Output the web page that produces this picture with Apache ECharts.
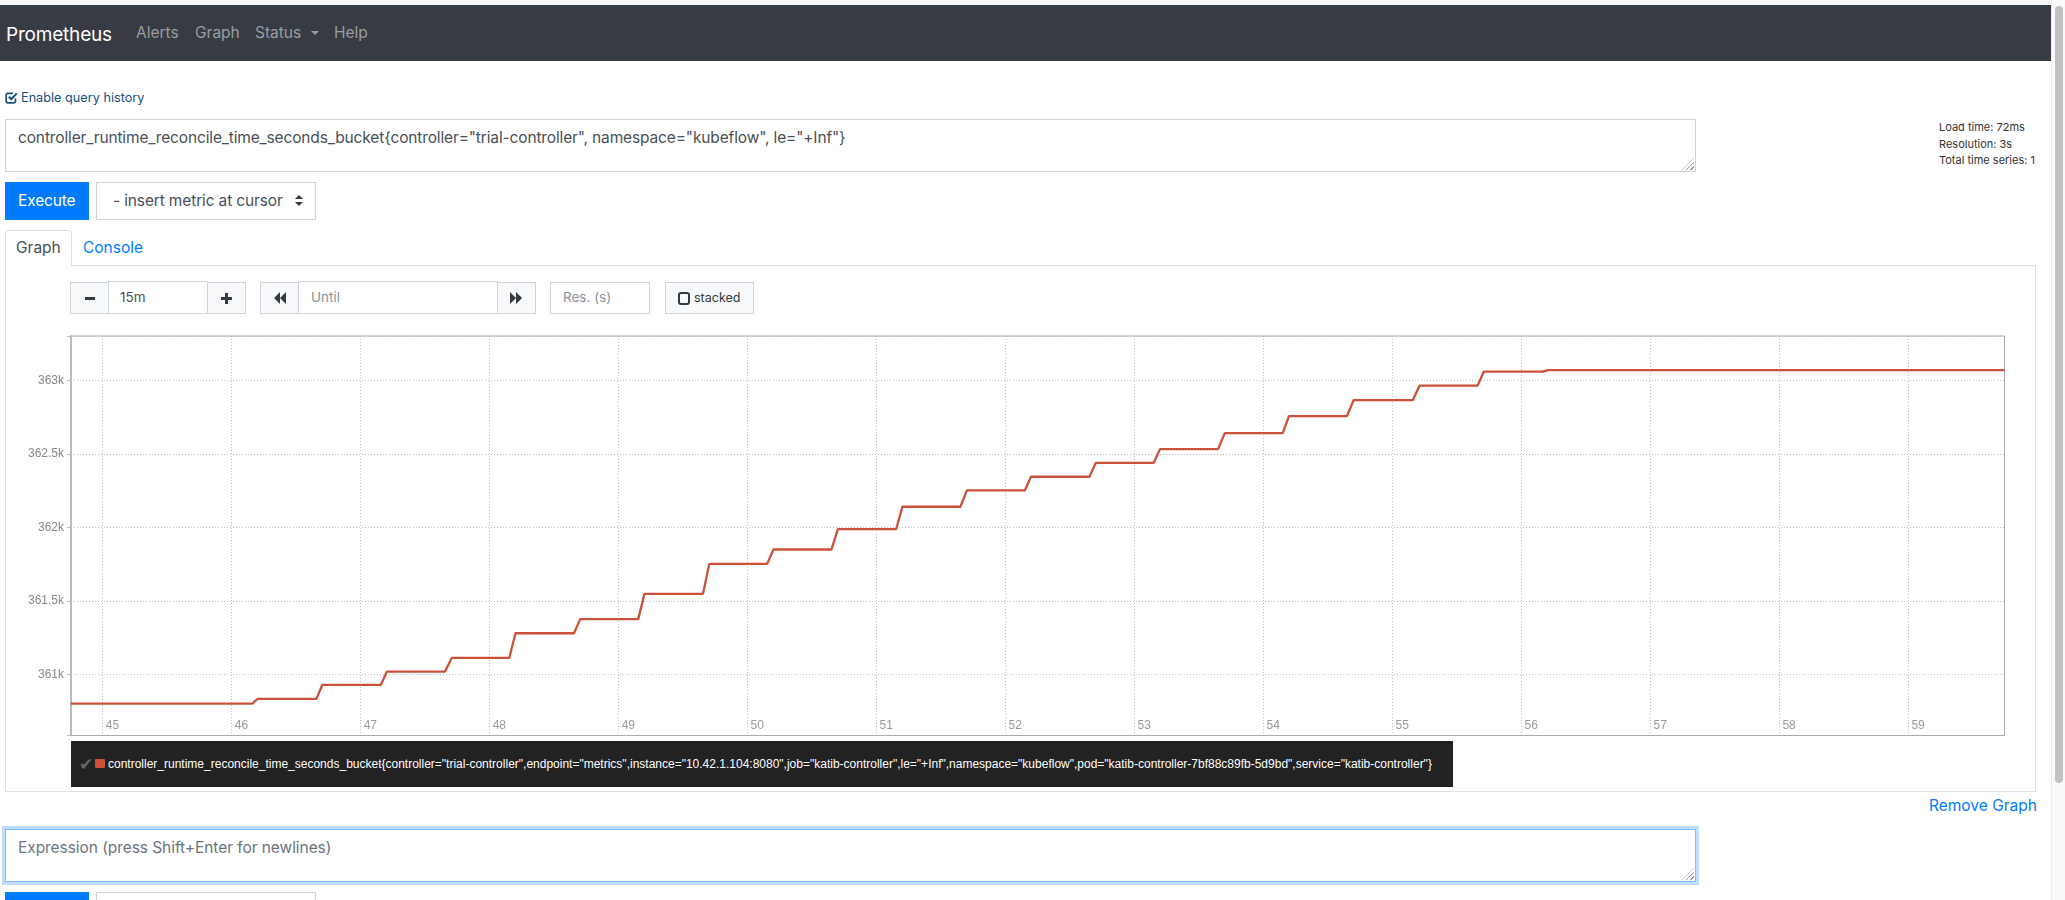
<!DOCTYPE html>
<html lang="en">
<head>
<meta charset="UTF-8">
<title>Prometheus Time Series Collection and Processing Server</title>
<style>
    * { box-sizing: border-box; margin: 0; padding: 0; }
    html, body { width: 2065px; height: 900px; overflow: hidden; background: #fff; }
    body { position: relative; font-family: Inter, Roboto, sans-serif; color: #495057; }
    .a { position: absolute; white-space: nowrap; }
    .t { position: absolute; white-space: nowrap; transform: translateY(-50%); line-height: 1; }
    .tight { letter-spacing: -0.14px; }
    .box { position: absolute; border: 1px solid #ced4da; background: #fff; }
    .btn { position: absolute; border: 1px solid #ced4da; background: #f8f9fa; }
    .grip { position: absolute; width: 12px; height: 12px;
        background: repeating-linear-gradient(135deg, transparent 0 2px, #999 2px 3px);
        clip-path: polygon(100% 0, 100% 100%, 0 100%); }
    #chart { position: absolute; left: 0; top: 320px; width: 2040px; height: 425px; }
    svg { position: absolute; }
</style>
</head>
<body>
    <div class="a" style="left:0;top:0;width:2051px;height:5px;background:#f6f6f6"></div>
    <div class="a" style="left:0;top:5px;width:2051px;height:56px;background:#373b43"></div>
    <div class="t" style="left:6px;top:34px;font-size:19px;color:#fff;font-weight:400;letter-spacing:-0.2px">Prometheus</div>
    <div class="t" style="left:136px;top:33px;font-size:15.5px;color:#9b9da1">Alerts</div>
    <div class="t" style="left:195px;top:33px;font-size:15.5px;color:#9b9da1">Graph</div>
    <div class="t" style="left:255px;top:33px;font-size:15.5px;color:#9b9da1">Status</div>
    <div class="a" style="left:311px;top:31px;border:4px solid transparent;border-top-color:#9b9da1;border-bottom:0"></div>
    <div class="t" style="left:334px;top:33px;font-size:15.5px;color:#9b9da1">Help</div>

    <div class="a" style="left:2051px;top:0;width:14px;height:900px;background:#fafafa;border-left:1px solid #ececec"></div>
    <div class="a" style="left:2055px;top:6px;width:8px;height:777px;background:#c1c1c1;border-radius:4px"></div>

    <svg style="left:5px;top:91px" width="13" height="13" viewBox="0 0 13 13">
        <path d="M10.5 7.5V10.2A1.6 1.6 0 0 1 8.9 11.8H2.8A1.6 1.6 0 0 1 1.2 10.2V4A1.6 1.6 0 0 1 2.8 2.4H8" fill="none" stroke="#17507f" stroke-width="1.7"/>
        <path d="M3.8 5.8L6.3 8.3L11.8 2.4" fill="none" stroke="#17507f" stroke-width="2"/>
    </svg>
    <div class="t" style="left:21px;top:97.5px;font-size:12.7px;color:#17507f">Enable query history</div>

    <div class="box" style="left:5px;top:119px;width:1691px;height:53px"></div>
    <div class="t tight" style="left:18px;top:138px;font-size:15.5px">controller_runtime_reconcile_time_seconds_bucket{controller="trial-controller", namespace="kubeflow", le="+Inf"}</div>
    <div class="grip" style="left:1682px;top:158px"></div>

    <div class="t" style="left:1939px;top:127px;font-size:11px;color:#333">Load time: 72ms</div>
    <div class="t" style="left:1939px;top:144px;font-size:11px;color:#333">Resolution: 3s</div>
    <div class="t" style="left:1939px;top:160px;font-size:11px;color:#333">Total time series: 1</div>

    <div class="a" style="left:5px;top:182px;width:84px;height:38px;background:#007bff"></div>
    <div class="t tight" style="left:18px;top:201px;font-size:15.5px;color:#fff">Execute</div>
    <div class="box" style="left:96px;top:182px;width:220px;height:38px"></div>
    <div class="t tight" style="left:113px;top:201px;font-size:15.5px">- insert metric at cursor</div>
    <div class="a" style="left:295px;top:195px;border:4px solid transparent;border-bottom-color:#343a40;border-top:0"></div>
    <div class="a" style="left:295px;top:202px;border:4px solid transparent;border-top-color:#343a40;border-bottom:0"></div>

    <!-- tabs and graph panel -->
    <div class="a" style="left:5px;top:265px;width:2031px;height:527px;border:1px solid #dee2e6"></div>
    <div class="a" style="left:5px;top:230px;width:67px;height:36px;background:#fff;border:1px solid #dee2e6;border-bottom:0;border-radius:4px 4px 0 0"></div>
    <div class="t" style="left:16px;top:248px;font-size:15.5px">Graph</div>
    <div class="t" style="left:83px;top:248px;font-size:15.5px;color:#007bff">Console</div>

    <div class="btn" style="left:70px;top:282px;width:39px;height:32px"></div>
    <div class="a" style="left:85px;top:297px;width:10px;height:3px;background:#343a40"></div>
    <div class="box" style="left:108px;top:281px;width:100px;height:33px"></div>
    <div class="t" style="left:120px;top:298px;font-size:13.5px">15m</div>
    <div class="btn" style="left:207px;top:282px;width:39px;height:32px"></div>
    <div class="a" style="left:221px;top:297px;width:11px;height:3px;background:#343a40"></div>
    <div class="a" style="left:225px;top:293px;width:3px;height:11px;background:#343a40"></div>

    <div class="btn" style="left:260px;top:282px;width:39px;height:32px"></div>
    <svg style="left:274px;top:292px" width="12" height="12" viewBox="0 0 12 12"><path d="M6 0V12L0 6ZM12 0V12L6 6Z" fill="#343a40"/></svg>
    <div class="box" style="left:298px;top:281px;width:200px;height:33px"></div>
    <div class="t" style="left:311px;top:298px;font-size:13.5px;color:#8a9299">Until</div>
    <div class="btn" style="left:497px;top:282px;width:39px;height:32px"></div>
    <svg style="left:510px;top:292px" width="12" height="12" viewBox="0 0 12 12"><path d="M0 0V12L6 6ZM6 0V12L12 6Z" fill="#343a40"/></svg>
    <div class="box" style="left:550px;top:282px;width:100px;height:32px"></div>
    <div class="t" style="left:563px;top:298px;font-size:13.5px;color:#8a9299">Res. (s)</div>
    <div class="btn" style="left:665px;top:282px;width:89px;height:32px"></div>
    <div class="a" style="left:678px;top:292px;width:12px;height:13px;border:2px solid #343a40;border-radius:3px"></div>
    <div class="t" style="left:694px;top:298px;font-size:12.5px;color:#343a40">stacked</div>

    <div id="chart"></div>

    <div class="a" style="left:71px;top:741px;width:1382px;height:46px;background:#222"></div>
    <div class="t" style="left:79px;top:764px;font-size:17px;color:#666">✔</div>
    <div class="a" style="left:95px;top:759px;width:10px;height:9px;background:#cb513a;border-radius:1px"></div>
    <div class="t" id="legend" style="left:108px;top:764px;font:12px 'Liberation Sans',sans-serif;color:#fff"></div>

    <div class="t" style="left:1929px;top:806px;font-size:15.5px;color:#007bff">Remove Graph</div>

    <div class="a" style="left:5px;top:829px;width:1691px;height:53px;background:#fff;border:1px solid #80bdff;box-shadow:0 0 0 3px rgba(0,123,255,.25)"></div>
    <div class="t" style="left:18px;top:848px;font-size:15.5px;color:#6c757d;letter-spacing:-0.06px">Expression (press Shift+Enter for newlines)</div>
    <div class="grip" style="left:1682px;top:868px"></div>
    <div class="a" style="left:5px;top:892px;width:84px;height:8px;background:#007bff"></div>
    <div class="box" style="left:96px;top:892px;width:220px;height:20px"></div>

    <script src="https://cdn.jsdelivr.net/npm/echarts@6/dist/echarts.min.js"></script>
    <script>
    // values: minute of the hour, counter value
    const minutes = [44.754, 46.159, 46.2, 46.657, 46.702, 47.156, 47.204, 47.654, 47.706, 48.152, 48.2, 48.654,
        48.702, 49.152, 49.2, 49.654, 49.703, 50.152, 50.2, 50.65, 50.7, 51.152, 51.2, 51.65, 51.7, 52.149,
        52.197, 52.65, 52.7, 53.149, 53.197, 53.647, 53.7, 54.149, 54.197, 54.647, 54.699, 55.158, 55.209,
        55.659, 55.708, 56.165, 56.207, 59.745];
    const counts = [360800, 360800, 360832, 360832, 360927, 360927, 361018, 361018, 361111, 361111, 361279, 361279,
        361375, 361375, 361547, 361547, 361751, 361751, 361849, 361849, 361987, 361987, 362140, 362140, 362251, 362251,
        362344, 362344, 362439, 362439, 362532, 362532, 362641, 362641, 362757, 362757, 362866, 362866, 362964,
        362964, 363059, 363059, 363070, 363070];
    const minuteTicks = [45, 46, 47, 48, 49, 50, 51, 52, 53, 54, 55, 56, 57, 58, 59];
    const countTicks = [361000, 361500, 362000, 362500, 363000];
    const xRange = [44.754, 59.745];
    const yRange = [360583, 363302];
    const seriesName = 'controller_runtime_reconcile_time_seconds_bucket{controller="trial-controller",endpoint="metrics",instance="10.42.1.104:8080",job="katib-controller",le="+Inf",namespace="kubeflow",pod="katib-controller-7bf88c89fb-5d9bd",service="katib-controller"}';

    document.getElementById('legend').textContent = seriesName;

    const gridLine = { show: true, lineStyle: { color: '#bdbdbd', type: [1, 2], width: 1 } };
    const chart = echarts.init(document.getElementById('chart'));
    chart.setOption({
        animation: false,
        textStyle: { fontFamily: "'Liberation Sans', sans-serif" },
        grid: { left: 71, right: 35.5, top: 16, bottom: 9.5, show: true, borderColor: '#aaa', borderWidth: 1 },
        xAxis: {
            type: 'value', min: xRange[0], max: xRange[1],
            axisLine: { show: true, lineStyle: { color: '#aaa', width: 1 } },
            axisTick: { show: false, customValues: minuteTicks },
            axisLabel: {
                inside: true, customValues: minuteTicks, align: 'left', margin: 4,
                padding: [0, 0, 0, 3], color: '#999', fontSize: 12,
                formatter: (v) => String(v)
            },
            splitLine: gridLine
        },
        yAxis: {
            type: 'value', min: yRange[0], max: yRange[1],
            axisLine: { show: true, lineStyle: { color: '#bbb', width: 2 } },
            axisTick: { show: true, length: 4, lineStyle: { color: '#bbb' }, customValues: [yRange[0], ...countTicks, yRange[1]] },
            axisLabel: {
                customValues: countTicks, margin: 7, color: '#888', fontSize: 12,
                padding: [3, 0, 0, 0],
                formatter: (v) => (v / 1000) + 'k'
            },
            splitLine: gridLine
        },
        series: [{
            name: seriesName,
            type: 'line',
            data: minutes.map((m, i) => [m, counts[i]]),
            showSymbol: false,
            lineStyle: { color: '#cb513a', width: 2.3 },
            itemStyle: { color: '#cb513a' }
        }]
    });
    </script>
</body>
</html>
